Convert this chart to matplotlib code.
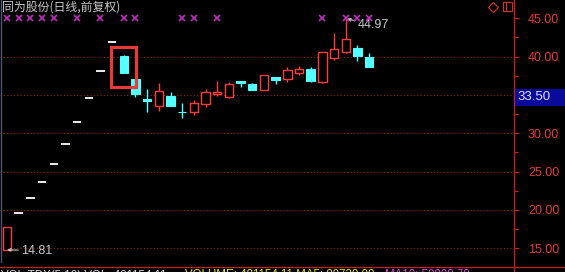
import numpy as np
import matplotlib
matplotlib.use("Agg")
import matplotlib.pyplot as plt
from matplotlib.patches import Rectangle
from matplotlib.lines import Line2D

# ---------------- data ----------------
title = "同为股份(日线,前复权)"
opens  = [14.81, 19.55, 21.50, 23.65, 26.02, 28.62, 31.48, 34.63, 38.09, 41.90,
          40.08, 37.08, 34.47, 33.56, 34.86, 32.82, 32.78, 33.82, 35.09, 34.77,
          36.82, 36.47, 35.69, 37.34, 37.08, 37.86, 38.38, 36.69, 39.82, 40.60,
          41.17, 39.95]
highs  = [17.77, 19.55, 21.50, 23.65, 26.02, 28.62, 31.48, 34.63, 38.09, 41.90,
          40.21, 37.10, 35.77, 36.56, 35.39, 33.97, 34.40, 35.73, 36.82, 36.73,
          36.85, 36.55, 37.62, 37.40, 38.65, 38.77, 38.65, 40.65, 43.08, 44.97,
          41.52, 40.47]
lows   = [14.81, 19.55, 21.50, 23.65, 26.02, 28.62, 31.48, 34.63, 38.09, 41.90,
          37.80, 34.75, 32.75, 32.91, 33.50, 31.96, 32.45, 33.42, 34.90, 34.56,
          36.00, 35.60, 35.65, 36.43, 36.69, 37.60, 36.75, 36.56, 39.56, 40.50,
          39.47, 38.60]
closes = [17.77, 19.55, 21.50, 23.65, 26.02, 28.62, 31.48, 34.63, 38.09, 41.90,
          37.86, 35.13, 34.21, 35.52, 33.56, 32.76, 33.95, 35.39, 35.39, 36.43,
          36.60, 35.65, 37.60, 36.95, 38.25, 38.38, 36.82, 40.60, 41.01, 42.30,
          40.08, 38.65]
marker_idx = [0, 1, 2, 3, 4, 6, 8, 10, 11, 15, 16, 18, 27, 29, 30, 31]
highlight_idx = 10
price_ticks = [15, 20, 25, 30, 35, 40, 45]
price_labels = ["15.00", "20.00", "25.00", "30.00", "", "40.00", "45.00"]
tag_label = "33.50"
bottom_texts = [("VOL-TDX(5,10) VOL: 481154.11", "#d0d0d0"),
                ("VOLUME: 481154.11 MA5: 89730.00", "#e8e800"),
                ("MA10: 59990.70", "#e040e0")]

# ---------------- styling ----------------
RED = "#ff3c3c"
CYAN = "#54ffff"
AXRED = "#c81e1e"
LABRED = "#e03c3c"
GRIDC = "#8a2020"
TXT = "#c8c8c8"
FONT = ["Liberation Sans", "DejaVu Sans"]

W, H = 565, 272
PX = 0.72  # points per pixel at 100 dpi
fig = plt.figure(figsize=(W / 100, H / 100), dpi=100, facecolor="black")

ax_right_px = 514
ax_bottom_px = 267
ax = fig.add_axes([0, (H - ax_bottom_px) / H, ax_right_px / W, ax_bottom_px / H])
ax.set_facecolor("black")

spacing = 11.68
x0_px = 7.0
ax.set_xlim(-x0_px / spacing, (ax_right_px - x0_px) / spacing)
ppu = 7.667
ax.set_ylim(15 - (ax_bottom_px - 248.3) / ppu, 15 + 248.3 / ppu)

o = np.array(opens); h = np.array(highs); l = np.array(lows); c = np.array(closes)
x = np.arange(len(o))
bw = 0.72

# grid
for t in price_ticks:
    if t == 45:
        continue
    ax.axhline(t, color=GRIDC, lw=0.8, ls=(0, (1, 2)), zorder=1)

for i in x:
    if h[i] == l[i]:
        ax.hlines(c[i], i - bw / 2, i + bw / 2, color="white", lw=1.3, zorder=3)
        continue
    up = c[i] >= o[i]
    col = RED if up else CYAN
    ax.vlines(i, l[i], h[i], color=col, lw=1.0, zorder=2)
    bottom = min(o[i], c[i])
    height = max(abs(c[i] - o[i]), 0.04)
    if up:
        ax.bar(i, height, bw, bottom=bottom, facecolor="black", edgecolor=col,
               lw=1.0, zorder=3)
    else:
        ax.bar(i, height, bw, bottom=bottom, facecolor=col, edgecolor=col,
               lw=0.8, zorder=3)

# highlight rectangle around a candle
hi = highlight_idx
ax.add_patch(Rectangle((hi - 1.07, l[hi] - 1.77), 2.14, (h[hi] + 1.04) - (l[hi] - 1.77),
                       fill=False, ec="#e83a3a", lw=2.3, zorder=5))

# purple markers along top
ymark = ax.get_ylim()[1] - 17.5 / ppu
ax.plot(marker_idx, [ymark] * len(marker_idx), ls="none", marker="x",
        ms=4.2, mew=1.2, color="#c030c0", zorder=4)

# max / min annotations
imax = int(np.argmax(h)); imin = int(np.argmin(l))
ax.annotate(f"{h[imax]:.2f}", xy=(imax, h[imax]), xytext=(12, -6.5),
            textcoords="offset pixels", ha="left", va="center", color=TXT,
            fontsize=9, family=FONT,
            arrowprops=dict(arrowstyle="->", color=TXT, lw=0.8,
                            shrinkA=0, shrinkB=1, mutation_scale=5))
ax.annotate(f"{l[imin]:.2f}", xy=(imin, l[imin]), xytext=(14, -1),
            textcoords="offset pixels", ha="left", va="center", color=TXT,
            fontsize=9, family=FONT,
            arrowprops=dict(arrowstyle="->", color=TXT, lw=0.8,
                            shrinkA=0, shrinkB=0, mutation_scale=5))

# axes styling
for s in ["top", "left", "bottom", "right"]:
    ax.spines[s].set_visible(False)
ax.set_xticks([])
ax.yaxis.tick_right()
ax.set_yticks(price_ticks)
ax.set_yticklabels(price_labels)
ax.set_yticks(np.arange(17.5, 45, 5), minor=True)
ax.tick_params(axis="y", which="major", direction="out", length=5 * PX, width=0.8,
               color=AXRED, labelcolor=LABRED, labelsize=9, pad=9 * PX)
ax.tick_params(axis="y", which="minor", direction="out", length=3.5 * PX, width=0.8,
               color=AXRED)
for lab in ax.get_yticklabels():
    lab.set_family(FONT)

# figure-level lines
fig.add_artist(Line2D([ax_right_px / W] * 2, [0, 1], color=AXRED, lw=0.9))
fig.add_artist(Line2D([0, 1], [(H - ax_bottom_px) / H] * 2, color=AXRED, lw=0.9))
fig.add_artist(Line2D([0.6 / W] * 2, [(H - 262) / H, 1], color="#4a5570", lw=1.0))

# title
fig.text(2 / W, 1 - 0.5 / H, title, color=TXT, fontsize=8.6, ha="left", va="top",
         family=["Noto Sans CJK SC", "DejaVu Sans"])

# top-right icons
fig.add_artist(Line2D([493 / W], [1 - 6.5 / H], marker="D", ms=5, mfc="none",
                      mec="#c83232", mew=0.9, ls="none"))
fig.add_artist(Rectangle((503 / W, 1 - 11 / H), 9 / W, 9 / H, fill=False,
                         ec="#c83232", lw=0.9))
fig.add_artist(Line2D([506 / W] * 2, [1 - 11 / H, 1 - 2 / H], color="#c83232", lw=0.9))

# tag box on the price axis
fig.add_artist(Rectangle((515 / W, 1 - 106 / H), 50 / W, 17 / H, fc="#0a0a9a",
                         ec="none", zorder=6))
fig.text(517 / W, 1 - 97.5 / H, tag_label, color="#e0e0ff", fontsize=9.5,
         ha="left", va="center", family=FONT, zorder=7)

# bottom (cut-off) indicator text
xs = [1, 185, 385]
for (txt, col), xp in zip(bottom_texts, xs):
    fig.text(xp / W, (H - 278.5) / H, txt, color=col, fontsize=8.3, ha="left",
             va="baseline", family=FONT)

fig.savefig("out.png", dpi=100, facecolor="black")
